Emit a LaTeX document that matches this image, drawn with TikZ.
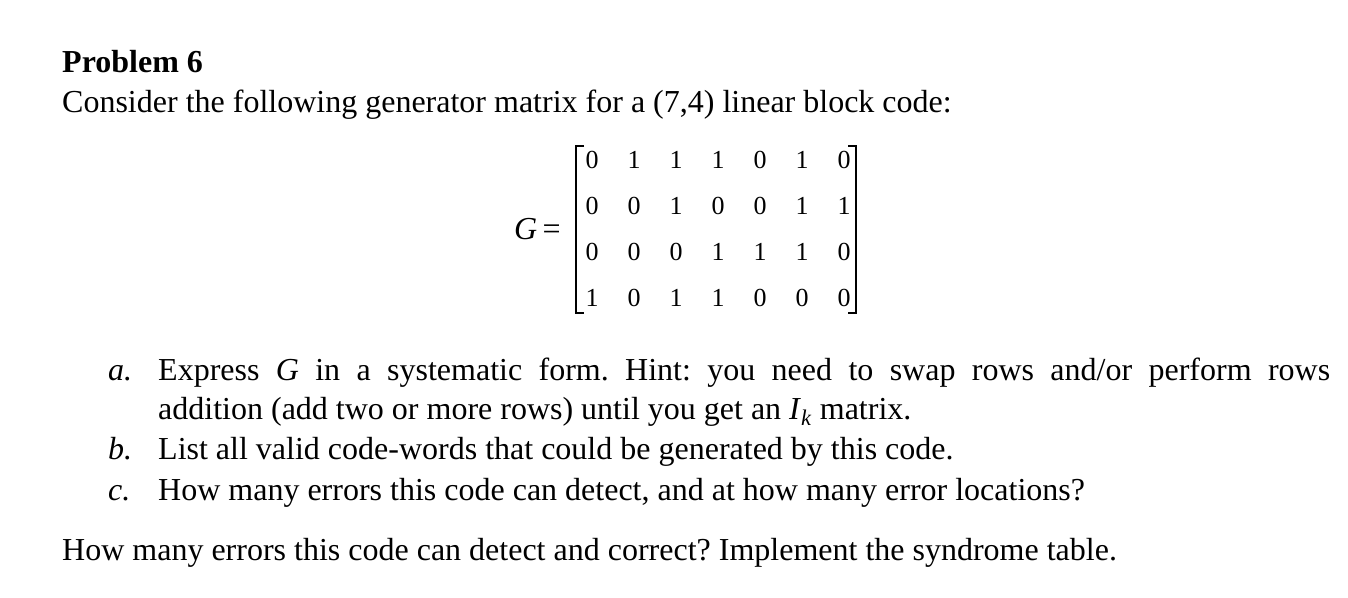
\documentclass[tikz,border=0pt]{standalone}
\usepackage{fontspec}
\setmainfont{Liberation Serif}
\frenchspacing
\begin{document}
\begin{tikzpicture}[x=1pt,y=-1pt,
  txt/.style={anchor=base west,inner sep=0pt,font=\fontsize{32}{40}\selectfont},
  dig/.style={anchor=base,inner sep=0pt,font=\fontsize{26}{30}\selectfont}]
\useasboundingbox (0,0) rectangle (1348,597);
\node[txt] (title) at (62,72) {\textbf{Problem 6}};
\node[txt] (intro) at (62,112) {Consider the following generator matrix for a (7,4) linear block code:};
\node[txt] (geq) at (514,239) {\textit{G}\,=};
\foreach \r [count=\i] in {{0,1,1,1,0,1,0},{0,0,1,0,0,1,1},{0,0,0,1,1,1,0},{1,0,1,1,0,0,0}}{
  \foreach \v [count=\j] in \r {
    \node[dig] (m\i\j) at ({550+42*\j},{168+46*(\i-1)}) {\v};
  }
}
\draw[line width=1.2pt] (584,146) -- (576,146) -- (576,313) -- (584,313);
\draw[line width=1.2pt] (848,146) -- (856,146) -- (856,313) -- (848,313);
\node[txt] (la) at (108,380) {\textit{a.}};
\node[txt] (ta1) at (158,380) {\makebox[1172pt][s]{Express \textit{G} in a systematic form. Hint: you need to swap rows and/or perform rows}};
\node[txt] (ta2) at (158,419) {addition (add two or more rows) until you get an \textit{I}\textsubscript{\textit{k}} matrix.};
\node[txt] (lb) at (108,459) {\textit{b.}};
\node[txt] (tb) at (158,459) {List all valid code-words that could be generated by this code.};
\node[txt] (lc) at (108,500) {\textit{c.}};
\node[txt] (tc) at (158,500) {How many errors this code can detect, and at how many error locations?};
\node[txt] (last) at (62,560) {How many errors this code can detect and correct? Implement the syndrome table.};
\end{tikzpicture}
\end{document}
